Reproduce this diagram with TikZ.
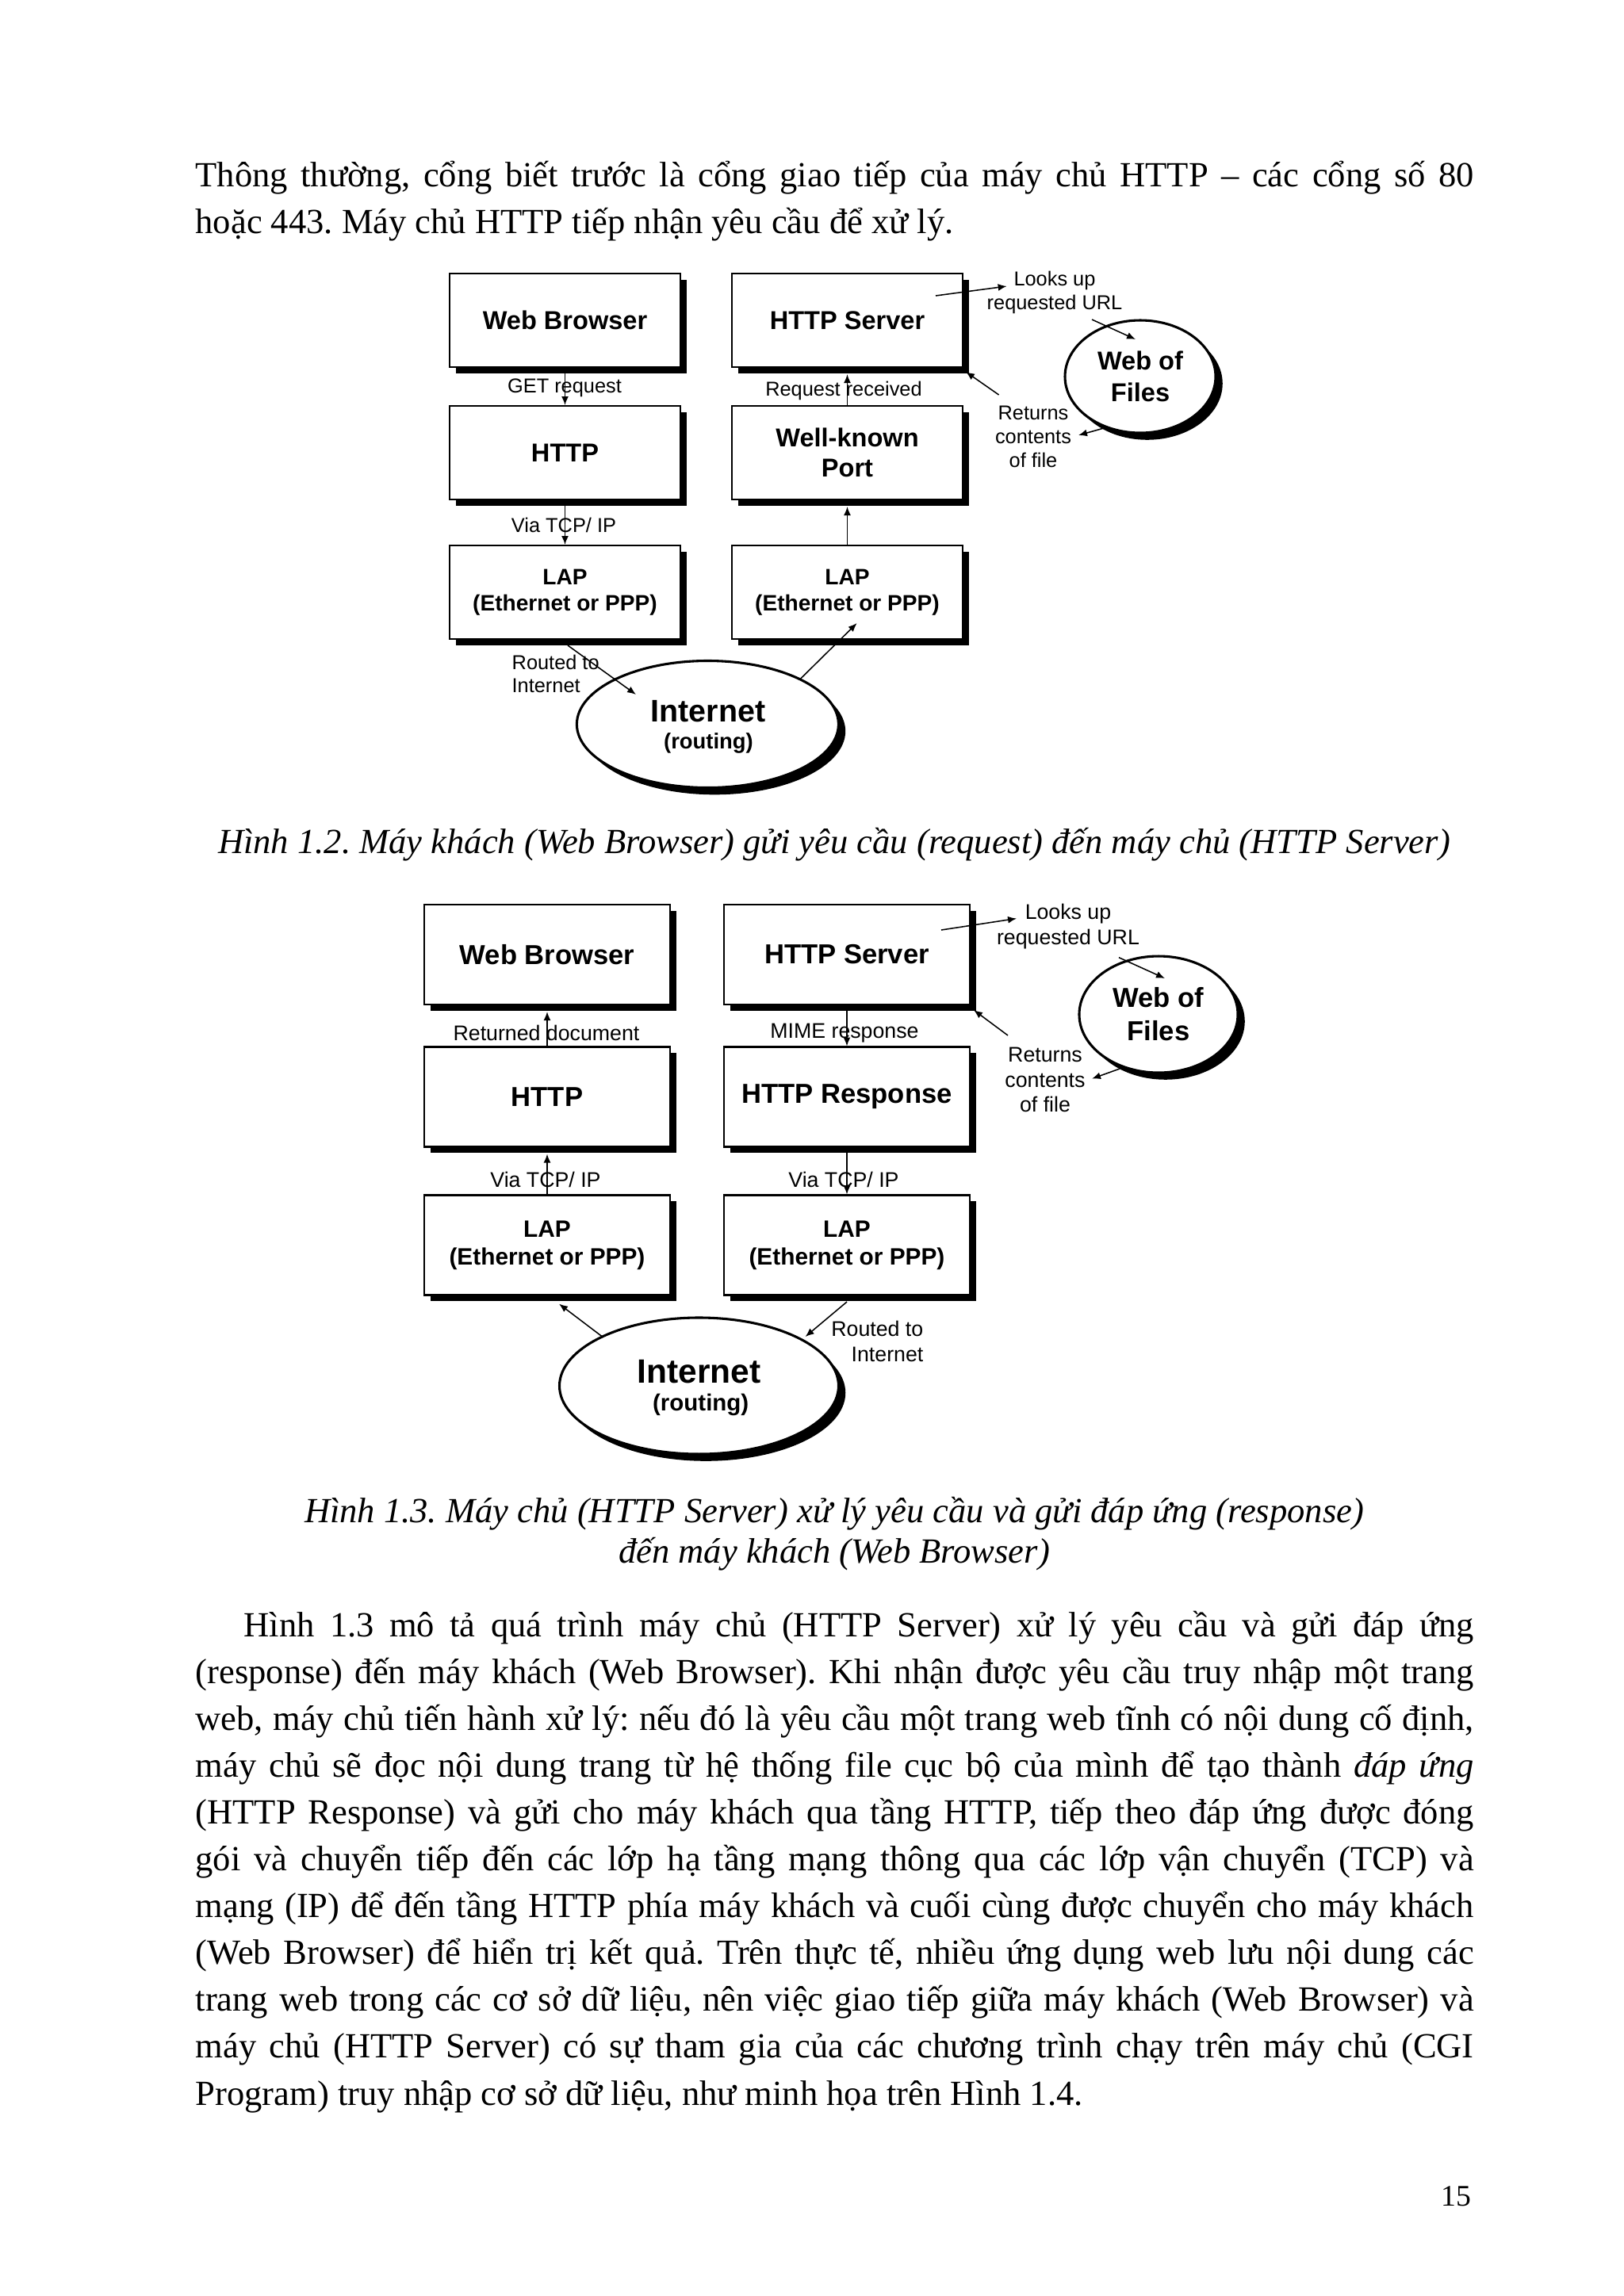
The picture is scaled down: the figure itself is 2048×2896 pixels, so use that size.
\documentclass[tikz,border=0pt]{standalone}
\usepackage{fontspec}
\setmainfont{Liberation Serif}
\newfontfamily\dgfont{Liberation Sans}
\usetikzlibrary{arrows.meta,shapes.geometric,shadows,calc}
\newcommand\justline[1]{\hbox to 165.29mm{#1}}
\newcommand\justfirst[1]{\hbox to 159.04mm{#1}}
\frenchspacing
\begin{document}
\begin{tikzpicture}[x=0.102539mm,y=-0.102539mm,
  body/.style={anchor=base west, inner sep=0, font=\fontsize{13pt}{17.25pt}\selectfont},
  capt/.style={anchor=base, inner sep=0, font=\fontsize{13pt}{15pt}\selectfont\itshape},
  shad/.style={drop shadow={shadow xshift=0.8mm, shadow yshift=-0.8mm, opacity=1, fill=black}},
  boxa/.style={draw, line width=0.6pt, fill=white, inner sep=0, minimum width=29.84mm, minimum height=12.1mm, align=center, shad, font=\fontsize{9.5pt}{11.2pt}\dgfont\bfseries},
  lapa/.style={boxa, font=\fontsize{8.2pt}{9.6pt}\dgfont\bfseries},
  boxb/.style={draw, line width=0.6pt, fill=white, inner sep=0, minimum width=31.79mm, minimum height=12.92mm, align=center, shad, font=\fontsize{10.1pt}{12pt}\dgfont\bfseries},
  lapb/.style={boxb, font=\fontsize{8.7pt}{10.3pt}\dgfont\bfseries},
  ell/.style={ellipse, draw, line width=0.9pt, fill=white, inner sep=0, align=center, drop shadow={shadow xshift=0.9mm, shadow yshift=-0.9mm, opacity=1, fill=black}},
  lbla/.style={inner sep=0, align=center, font=\fontsize{7.4pt}{8.7pt}\dgfont},
  lblb/.style={inner sep=0, align=center, font=\fontsize{7.8pt}{9.3pt}\dgfont},
  arr/.style={-{Latex[length=3.2pt,width=2.6pt]}, line width=0.45pt}
]
\fill[white] (0,0) rectangle (2048,2896);
\useasboundingbox (0,0) rectangle (2048,2896);

% ---------- top text ----------
\node[body] (t1) at (246,235) {\justline{Thông thường, cổng biết trước là cổng giao tiếp của máy chủ HTTP – các cổng số 80}};
\node[body] (t2) at (246,294) {hoặc 443. Máy chủ HTTP tiếp nhận yêu cầu để xử lý.};

% ---------- Figure 1.2 ----------
\node[boxa] (wb1) at (712.5,404) {Web Browser};
\node[boxa] (hs1) at (1068.5,404) {HTTP Server};
\node[boxa] (ht1) at (712.5,571) {HTTP};
\node[boxa] (wk1) at (1068.5,571) {Well-known\\Port};
\node[lapa] (ll1) at (712.5,747) {LAP\\(Ethernet or PPP)};
\node[lapa] (lr1) at (1068.5,747) {LAP\\(Ethernet or PPP)};
\node[ell, minimum width=33.84mm, minimum height=16.41mm] (in1) at (892.4,913.5) {};
\node[inner sep=0, font=\fontsize{11.5pt}{13pt}\dgfont\bfseries] (in1a) at (893,897) {Internet};
\node[inner sep=0, font=\fontsize{8pt}{10pt}\dgfont\bfseries] (in1b) at (893.5,937) {(routing)};
\node[ell, minimum width=19.48mm, minimum height=14.56mm, font=\fontsize{9.5pt}{11.6pt}\dgfont\bfseries] (wf1) at (1438,475) {Web of\\Files};

\draw[arr] (wb1.south) -- (ht1.north);
\draw[arr] (ht1.south) -- (ll1.north);
\draw[arr] (wk1.north) -- ($(hs1.south)+(0,8)$);
\draw[arr] (lr1.north) -- ($(wk1.south)+(0,8)$);
\coordinate (a1s) at (716,814);   \coordinate (a1e) at (802,876);
\coordinate (a2s) at (1009.6,856); \coordinate (a2e) at (1080.6,786);
\coordinate (a3s) at (1180,373);  \coordinate (a3e) at (1269.6,361);
\coordinate (a4s) at (1377,403);  \coordinate (a4e) at (1432,428);
\coordinate (a5s) at (1259.6,498); \coordinate (a5e) at (1218,469);
\coordinate (a6s) at (1395.6,539); \coordinate (a6e) at (1360,549);
\draw[arr] (a1s) -- (a1e);
\draw[arr] (a2s) -- (a2e);
\draw[arr] (a3s) -- (a3e);
\draw[arr] (a4s) -- (a4e);
\draw[arr] (a5s) -- (a5e);
\draw[arr] (a6s) -- (a6e);

\node[lbla] (g1) at (712,489) {GET request};
\node[lbla] (rr1) at (1064,493) {Request received};
\node[lbla] (v1) at (711,662) {Via TCP/ IP};
\node[lbla, align=left, anchor=west] (rt1) at (645,850) {Routed to\\Internet};
\node[lbla] (lu1) at (1330,369) {Looks up\\requested URL};
\node[lbla] (rc1) at (1303,551) {Returns\\contents\\of file};

\node[capt] (c12) at (1052,1076) {Hình 1.2. Máy khách (Web Browser) gửi yêu cầu (request) đến máy chủ (HTTP Server)};

% ---------- Figure 1.3 ----------
\node[boxb] (wb2) at (690,1204) {Web Browser};
\node[boxb] (hs2) at (1068,1204) {HTTP Server};
\node[boxb] (ht2) at (690,1383.5) {HTTP};
\node[boxb] (hr2) at (1068,1383.5) {HTTP Response};
\node[lapb] (ll2) at (690,1570.5) {LAP\\(Ethernet or PPP)};
\node[lapb] (lr2) at (1068,1570.5) {LAP\\(Ethernet or PPP)};
\node[ell, minimum width=36.09mm, minimum height=17.64mm] (in2) at (881.5,1748) {};
\node[inner sep=0, font=\fontsize{12.4pt}{14pt}\dgfont\bfseries] (in2a) at (881.6,1730) {Internet};
\node[inner sep=0, font=\fontsize{8.6pt}{10pt}\dgfont\bfseries] (in2b) at (883.7,1772) {(routing)};
\node[ell, minimum width=20.51mm, minimum height=15.07mm, font=\fontsize{10.1pt}{12.2pt}\dgfont\bfseries] (wf2) at (1461,1279.5) {Web of\\Files};

\draw[arr] (ht2.north) -- ($(wb2.south)+(0,8)$);
\draw[arr] (ll2.north) -- ($(ht2.south)+(0,8)$);
\draw[arr] (hs2.south) -- (hr2.north);
\draw[arr] (hr2.south) -- (lr2.north);
\coordinate (b1s) at (759.6,1686); \coordinate (b1e) at (705,1644.6);
\coordinate (b2s) at (1068,1642);  \coordinate (b2e) at (1015.6,1686);
\coordinate (b3s) at (1187,1173);  \coordinate (b3e) at (1282,1158.5);
\coordinate (b4s) at (1411,1207.7); \coordinate (b4e) at (1469,1234);
\coordinate (b5s) at (1271,1306);  \coordinate (b5e) at (1228,1274);
\coordinate (b6s) at (1412,1348);  \coordinate (b6e) at (1377,1360.6);
\draw[arr] (b1s) -- (b1e);
\draw[arr] (b2s) -- (b2e);
\draw[arr] (b3s) -- (b3e);
\draw[arr] (b4s) -- (b4e);
\draw[arr] (b5s) -- (b5e);
\draw[arr] (b6s) -- (b6e);

\node[lblb] (rd2) at (689,1303) {Returned document};
\node[lblb] (mr2) at (1065,1303) {MIME response};
\node[lblb] (v2l) at (688,1488) {Via TCP/ IP};
\node[lblb] (v2r) at (1064,1488) {Via TCP/ IP};
\node[lblb, align=right, anchor=east] (rt2) at (1165,1692) {Routed to\\Internet};
\node[lblb] (lu2) at (1347,1169) {Looks up\\requested URL};
\node[lblb] (rc2) at (1318,1362) {Returns\\contents\\of file};

\node[capt] (c13a) at (1052,1920) {Hình 1.3. Máy chủ (HTTP Server) xử lý yêu cầu và gửi đáp ứng (response)};
\node[capt] (c13b) at (1052,1971) {đến máy khách (Web Browser)};

% ---------- bottom paragraph ----------
\node[body] (p1) at (307,2064) {\justfirst{Hình 1.3 mô tả quá trình máy chủ (HTTP Server) xử lý yêu cầu và gửi đáp ứng}};
\node[body] (p2) at (246,2123.1) {\justline{(response) đến máy khách (Web Browser). Khi nhận được yêu cầu truy nhập một trang}};
\node[body] (p3) at (246,2182.2) {\justline{web, máy chủ tiến hành xử lý: nếu đó là yêu cầu một trang web tĩnh có nội dung cố định,}};
\node[body] (p4) at (246,2241.3) {\justline{máy chủ sẽ đọc nội dung trang từ hệ thống file cục bộ của mình để tạo thành \textit{đáp ứng}}};
\node[body] (p5) at (246,2300.4) {\justline{(HTTP Response) và gửi cho máy khách qua tầng HTTP, tiếp theo đáp ứng được đóng}};
\node[body] (p6) at (246,2359.5) {\justline{gói và chuyển tiếp đến các lớp hạ tầng mạng thông qua các lớp vận chuyển (TCP) và}};
\node[body] (p7) at (246,2418.6) {\justline{mạng (IP) để đến tầng HTTP phía máy khách và cuối cùng được chuyển cho máy khách}};
\node[body] (p8) at (246,2477.7) {\justline{(Web Browser) để hiển trị kết quả. Trên thực tế, nhiều ứng dụng web lưu nội dung các}};
\node[body] (p9) at (246,2536.8) {\justline{trang web trong các cơ sở dữ liệu, nên việc giao tiếp giữa máy khách (Web Browser) và}};
\node[body] (p10) at (246,2595.9) {\justline{máy chủ (HTTP Server) có sự tham gia của các chương trình chạy trên máy chủ (CGI}};
\node[body] (p11) at (246,2655) {Program) truy nhập cơ sở dữ liệu, như minh họa trên Hình 1.4.};

\node[anchor=base east, inner sep=0, font=\fontsize{11pt}{13pt}\selectfont] (pg) at (1856,2782) {15};
\end{tikzpicture}
\end{document}
